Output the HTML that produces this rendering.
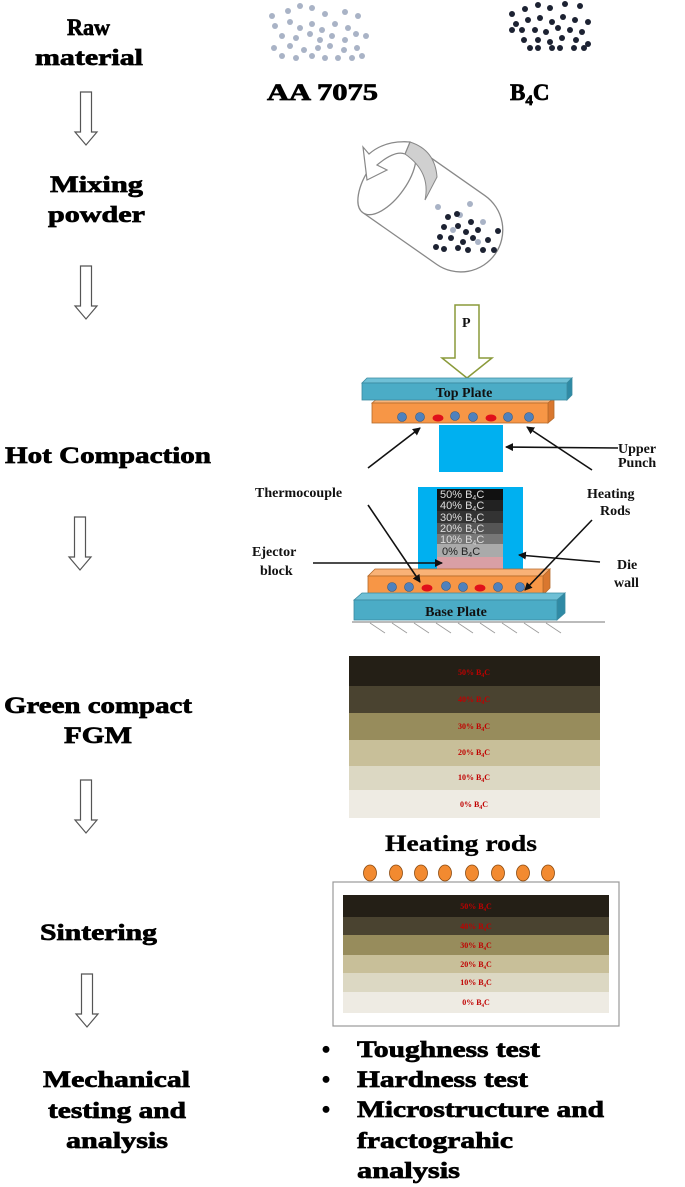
<!DOCTYPE html>
<html><head><meta charset="utf-8"><style>
html,body{margin:0;padding:0;background:#fff}
svg{display:block}
.h{font-family:"Liberation Serif",serif;font-weight:bold;font-size:23px;fill:#000;stroke:#000;stroke-width:0.7}
.l{font-family:"Liberation Serif",serif;font-weight:bold;font-size:14px;fill:#111}
.r{font-family:"Liberation Serif",serif;font-weight:bold;font-size:8px;fill:#c00000}
.g{font-family:"Liberation Sans",sans-serif;font-size:11px;fill:#ddd}
</style></head><body>
<svg width="685" height="1187" viewBox="0 0 685 1187" xmlns="http://www.w3.org/2000/svg">
<defs>
<g id="arr"><path d="M-5.5 0 H5.5 V40 H11 L0 53 L-11 40 H-5.5 Z" fill="#fff" stroke="#555" stroke-width="1.2"/></g>
<marker id="ah" markerWidth="8" markerHeight="8" refX="7" refY="4" orient="auto" markerUnits="userSpaceOnUse"><path d="M0 0 L8 4 L0 8 Z" fill="#111"/></marker>
</defs>

<!-- left labels -->
<text class="h" x="67" y="35" textLength="43" lengthAdjust="spacingAndGlyphs">Raw</text>
<text class="h" x="35" y="65" textLength="108" lengthAdjust="spacingAndGlyphs">material</text>
<use href="#arr" x="86" y="92"/>
<text class="h" x="50" y="192" textLength="93" lengthAdjust="spacingAndGlyphs">Mixing</text>
<text class="h" x="48" y="222" textLength="97" lengthAdjust="spacingAndGlyphs">powder</text>
<use href="#arr" x="86" y="266"/>
<text class="h" x="5" y="463" textLength="206" lengthAdjust="spacingAndGlyphs">Hot Compaction</text>
<use href="#arr" x="80" y="517"/>
<text class="h" x="4" y="713" textLength="188" lengthAdjust="spacingAndGlyphs">Green compact</text>
<text class="h" x="64" y="743" textLength="68" lengthAdjust="spacingAndGlyphs">FGM</text>
<use href="#arr" x="86" y="780"/>
<text class="h" x="40" y="940" textLength="117" lengthAdjust="spacingAndGlyphs">Sintering</text>
<use href="#arr" x="87" y="974"/>
<text class="h" x="43" y="1087" textLength="147" lengthAdjust="spacingAndGlyphs">Mechanical</text>
<text class="h" x="48" y="1118" textLength="138" lengthAdjust="spacingAndGlyphs">testing and</text>
<text class="h" x="66" y="1148" textLength="102" lengthAdjust="spacingAndGlyphs">analysis</text>

<!-- particles -->
<g fill="#a9b3c6">
<circle cx="272" cy="16" r="3"/><circle cx="288" cy="11" r="3"/><circle cx="300" cy="6" r="3"/><circle cx="312" cy="8" r="3"/><circle cx="325" cy="14" r="3"/><circle cx="345" cy="12" r="3"/><circle cx="358" cy="16" r="3"/>
<circle cx="275" cy="26" r="3"/><circle cx="290" cy="22" r="3"/><circle cx="300" cy="28" r="3"/><circle cx="312" cy="24" r="3"/><circle cx="322" cy="30" r="3"/><circle cx="335" cy="24" r="3"/><circle cx="348" cy="28" r="3"/><circle cx="366" cy="36" r="3"/>
<circle cx="282" cy="36" r="3"/><circle cx="296" cy="38" r="3"/><circle cx="310" cy="34" r="3"/><circle cx="320" cy="40" r="3"/><circle cx="332" cy="36" r="3"/><circle cx="345" cy="40" r="3"/><circle cx="356" cy="34" r="3"/>
<circle cx="274" cy="48" r="3"/><circle cx="290" cy="46" r="3"/><circle cx="304" cy="50" r="3"/><circle cx="318" cy="48" r="3"/><circle cx="330" cy="46" r="3"/><circle cx="344" cy="50" r="3"/><circle cx="357" cy="48" r="3"/>
<circle cx="282" cy="56" r="3"/><circle cx="296" cy="58" r="3"/><circle cx="312" cy="56" r="3"/><circle cx="325" cy="58" r="3"/><circle cx="338" cy="58" r="3"/><circle cx="352" cy="58" r="3"/><circle cx="362" cy="56" r="3"/>
</g>
<g fill="#1c2232">
<circle cx="512" cy="14" r="3"/><circle cx="525" cy="9" r="3"/><circle cx="538" cy="5" r="3"/><circle cx="550" cy="8" r="3"/><circle cx="565" cy="4" r="3"/><circle cx="580" cy="6" r="3"/>
<circle cx="516" cy="24" r="3"/><circle cx="528" cy="20" r="3"/><circle cx="540" cy="18" r="3"/><circle cx="552" cy="22" r="3"/><circle cx="563" cy="17" r="3"/><circle cx="575" cy="20" r="3"/><circle cx="588" cy="22" r="3"/>
<circle cx="512" cy="30" r="3"/><circle cx="522" cy="30" r="3"/><circle cx="535" cy="30" r="3"/><circle cx="546" cy="32" r="3"/><circle cx="558" cy="28" r="3"/><circle cx="570" cy="30" r="3"/><circle cx="582" cy="32" r="3"/>
<circle cx="524" cy="40" r="3"/><circle cx="538" cy="40" r="3"/><circle cx="550" cy="42" r="3"/><circle cx="562" cy="38" r="3"/><circle cx="576" cy="40" r="3"/><circle cx="588" cy="44" r="3"/>
<circle cx="530" cy="48" r="3"/><circle cx="538" cy="48" r="3"/><circle cx="552" cy="48" r="3"/><circle cx="560" cy="48" r="3"/><circle cx="574" cy="48" r="3"/><circle cx="584" cy="48" r="3"/>
</g>
<text class="h" x="267" y="100" textLength="111" lengthAdjust="spacingAndGlyphs">AA 7075</text>
<text class="h" x="510" y="100">B<tspan font-size="15" dy="5">4</tspan><tspan dy="-5">C</tspan></text>

<!-- mixer -->
<g transform="translate(428,207) rotate(35)">
<path d="M-50 -42 H40 A42 42 0 0 1 40 42 H-50" fill="#fff" stroke="#888" stroke-width="1.3"/>
<ellipse cx="-50" cy="0" rx="20" ry="42" fill="#fff" stroke="#888" stroke-width="1.3"/>
</g>
<path d="M410 142 Q435 150 437 177 L425 200 Q431 172 405 154 Z" fill="#d0d0d0" stroke="#888"/>
<path d="M410 142 Q385 140 369 154 L363 147 L367 180 L387 170 L377 165 Q395 150 405 154 Z" fill="#fff" stroke="#888" stroke-width="1.2"/>
<g fill="#a9b3c6"><circle cx="438" cy="207" r="3"/><circle cx="470" cy="204" r="3"/><circle cx="460" cy="215" r="3"/><circle cx="483" cy="222" r="3"/><circle cx="453" cy="230" r="3"/><circle cx="478" cy="242" r="3"/></g>
<g fill="#1c2232">
<circle cx="448" cy="217" r="3"/><circle cx="457" cy="214" r="3"/><circle cx="471" cy="222" r="3"/><circle cx="444" cy="227" r="3"/><circle cx="458" cy="226" r="3"/><circle cx="466" cy="232" r="3"/><circle cx="478" cy="230" r="3"/><circle cx="498" cy="231" r="3"/>
<circle cx="440" cy="237" r="3"/><circle cx="451" cy="238" r="3"/><circle cx="463" cy="242" r="3"/><circle cx="473" cy="238" r="3"/><circle cx="488" cy="240" r="3"/>
<circle cx="436" cy="247" r="3"/><circle cx="444" cy="249" r="3"/><circle cx="458" cy="248" r="3"/><circle cx="468" cy="250" r="3"/><circle cx="483" cy="250" r="3"/><circle cx="494" cy="250" r="3"/>
</g>

<!-- press -->
<path d="M455 305 H479 V358 H492 L467 378 L442 358 H455 Z" fill="#fff" stroke="#8a9a3a" stroke-width="1.5"/>
<text class="l" x="462" y="327" font-size="15">P</text>
<!-- upper orange -->
<path d="M372 403 L378 398 L554 398 L548 403 Z" fill="#f9b277" stroke="#b56a2a" stroke-width="0.8"/>
<path d="M548 403 L554 398 L554 418 L548 423 Z" fill="#d9772f" stroke="#b56a2a" stroke-width="0.8"/>
<rect x="372" y="403" width="176" height="20" fill="#f79646" stroke="#b56a2a" stroke-width="0.8"/>
<g fill="#4f81bd" stroke="#2c5a8a" stroke-width="0.6">
<circle cx="402" cy="417" r="4.5"/><circle cx="420" cy="417" r="4.5"/><circle cx="455" cy="416" r="4.5"/><circle cx="473" cy="417" r="4.5"/><circle cx="508" cy="417" r="4.5"/><circle cx="529" cy="417" r="4.5"/></g>
<g fill="#e0101a"><ellipse cx="438" cy="418" rx="5.5" ry="3.5"/><ellipse cx="491" cy="418" rx="5.5" ry="3.5"/></g>
<!-- top plate -->
<path d="M362 383 L367 378 L572 378 L567 383 Z" fill="#6fc0d6" stroke="#3a8aa0" stroke-width="0.8"/>
<path d="M567 383 L572 378 L572 395 L567 400 Z" fill="#2f8aa5" stroke="#3a8aa0" stroke-width="0.8"/>
<rect x="362" y="383" width="205" height="17" fill="#4bacc6" stroke="#3a8aa0" stroke-width="0.8"/>
<text class="l" x="464" y="397" text-anchor="middle" font-size="14" fill="#1a2a3a">Top Plate</text>
<!-- upper punch -->
<rect x="439" y="425" width="64" height="47" fill="#00b0f0"/>
<!-- die -->
<rect x="418" y="487" width="105" height="82" fill="#00b0f0"/>
<rect x="437" y="489" width="66" height="11" fill="#111"/>
<rect x="437" y="500" width="66" height="11" fill="#222"/>
<rect x="437" y="511" width="66" height="12" fill="#333"/>
<rect x="437" y="523" width="66" height="11" fill="#555"/>
<rect x="437" y="534" width="66" height="10" fill="#777"/>
<rect x="437" y="544" width="66" height="13" fill="#aaa"/>
<rect x="437" y="557" width="66" height="12" fill="#d99fa5"/>
<g class="g" font-size="11">
<text x="440" y="498">50% B<tspan font-size="7" dy="2">4</tspan><tspan dy="-2">C</tspan></text>
<text x="440" y="509">40% B<tspan font-size="7" dy="2">4</tspan><tspan dy="-2">C</tspan></text>
<text x="440" y="521">30% B<tspan font-size="7" dy="2">4</tspan><tspan dy="-2">C</tspan></text>
<text x="440" y="532">20% B<tspan font-size="7" dy="2">4</tspan><tspan dy="-2">C</tspan></text>
<text x="440" y="543">10% B<tspan font-size="7" dy="2">4</tspan><tspan dy="-2">C</tspan></text>
<text x="442" y="555" style="fill:#222">0% B<tspan font-size="7" dy="2">4</tspan><tspan dy="-2">C</tspan></text>
</g>
<!-- lower orange -->
<path d="M368 576 L375 569 L550 569 L543 576 Z" fill="#f9b277" stroke="#b56a2a" stroke-width="0.8"/>
<path d="M543 576 L550 569 L550 588 L543 595 Z" fill="#d9772f" stroke="#b56a2a" stroke-width="0.8"/>
<rect x="368" y="576" width="175" height="19" fill="#f79646" stroke="#b56a2a" stroke-width="0.8"/>
<g fill="#4f81bd" stroke="#2c5a8a" stroke-width="0.6">
<circle cx="392" cy="587" r="4.5"/><circle cx="409" cy="587" r="4.5"/><circle cx="446" cy="586" r="4.5"/><circle cx="463" cy="587" r="4.5"/><circle cx="498" cy="587" r="4.5"/><circle cx="520" cy="587" r="4.5"/></g>
<g fill="#e0101a"><ellipse cx="427" cy="588" rx="5.5" ry="3.5"/><ellipse cx="480" cy="588" rx="5.5" ry="3.5"/></g>
<!-- base plate -->
<path d="M354 600 L362 593 L565 593 L557 600 Z" fill="#6fc0d6" stroke="#3a8aa0" stroke-width="0.8"/>
<path d="M557 600 L565 593 L565 613 L557 620 Z" fill="#2f8aa5" stroke="#3a8aa0" stroke-width="0.8"/>
<rect x="354" y="600" width="203" height="20" fill="#4bacc6" stroke="#3a8aa0" stroke-width="0.8"/>
<text class="l" x="456" y="616" text-anchor="middle" font-size="15" fill="#1a2a3a">Base Plate</text>
<line x1="352" y1="622" x2="605" y2="622" stroke="#777" stroke-width="1"/>
<g stroke="#999" stroke-width="0.8">
<line x1="370" y1="623" x2="385" y2="633"/><line x1="392" y1="623" x2="407" y2="633"/><line x1="414" y1="623" x2="429" y2="633"/><line x1="436" y1="623" x2="451" y2="633"/><line x1="458" y1="623" x2="473" y2="633"/><line x1="480" y1="623" x2="495" y2="633"/><line x1="502" y1="623" x2="517" y2="633"/><line x1="524" y1="623" x2="539" y2="633"/><line x1="546" y1="623" x2="561" y2="633"/>
</g>
<!-- labels press -->
<text class="l" x="618" y="453">Upper</text>
<text class="l" x="618" y="467">Punch</text>
<text class="l" x="255" y="497">Thermocouple</text>
<text class="l" x="587" y="498">Heating</text>
<text class="l" x="600" y="515">Rods</text>
<text class="l" x="252" y="556">Ejector</text>
<text class="l" x="260" y="575">block</text>
<text class="l" x="617" y="569">Die</text>
<text class="l" x="614" y="587">wall</text>
<g stroke="#111" stroke-width="1.6" marker-end="url(#ah)">
<line x1="618" y1="448" x2="506" y2="447"/>
<line x1="368" y1="468" x2="420" y2="428"/>
<line x1="368" y1="505" x2="420" y2="582"/>
<line x1="592" y1="470" x2="527" y2="427"/>
<line x1="592" y1="520" x2="525" y2="590"/>
<line x1="313" y1="563" x2="442" y2="563"/>
<line x1="600" y1="562" x2="519" y2="555"/>
</g>

<!-- green compact -->
<rect x="349" y="656" width="251" height="30" fill="#241f16"/>
<rect x="349" y="686" width="251" height="27" fill="#4a4330"/>
<rect x="349" y="713" width="251" height="27" fill="#978c5c"/>
<rect x="349" y="740" width="251" height="26" fill="#c8bf99"/>
<rect x="349" y="766" width="251" height="24" fill="#dcd8c3"/>
<rect x="349" y="790" width="251" height="28" fill="#eeebe3"/>
<g class="r" text-anchor="middle">
<text x="474" y="675">50% B<tspan font-size="6" dy="2">4</tspan><tspan dy="-2">C</tspan></text>
<text x="474" y="702">40% B<tspan font-size="6" dy="2">4</tspan><tspan dy="-2">C</tspan></text>
<text x="474" y="729">30% B<tspan font-size="6" dy="2">4</tspan><tspan dy="-2">C</tspan></text>
<text x="474" y="755">20% B<tspan font-size="6" dy="2">4</tspan><tspan dy="-2">C</tspan></text>
<text x="474" y="780">10% B<tspan font-size="6" dy="2">4</tspan><tspan dy="-2">C</tspan></text>
<text x="474" y="807">0% B<tspan font-size="6" dy="2">4</tspan><tspan dy="-2">C</tspan></text>
</g>

<!-- sintering -->
<text class="h" x="385" y="851" textLength="152" lengthAdjust="spacingAndGlyphs" style="stroke-width:0.3">Heating rods</text>
<g fill="#f28a30" stroke="#8a4a10" stroke-width="0.8">
<ellipse cx="370" cy="873" rx="6.5" ry="8"/><ellipse cx="396" cy="873" rx="6.5" ry="8"/><ellipse cx="421" cy="873" rx="6.5" ry="8"/><ellipse cx="445" cy="873" rx="6.5" ry="8"/><ellipse cx="472" cy="873" rx="6.5" ry="8"/><ellipse cx="498" cy="873" rx="6.5" ry="8"/><ellipse cx="523" cy="873" rx="6.5" ry="8"/><ellipse cx="548" cy="873" rx="6.5" ry="8"/>
</g>
<rect x="333" y="882" width="286" height="144" fill="#fff" stroke="#999" stroke-width="1.2"/>
<rect x="343" y="895" width="266" height="22" fill="#241f16"/>
<rect x="343" y="917" width="266" height="18" fill="#4a4330"/>
<rect x="343" y="935" width="266" height="20" fill="#978c5c"/>
<rect x="343" y="955" width="266" height="18" fill="#c8bf99"/>
<rect x="343" y="973" width="266" height="19" fill="#dcd8c3"/>
<rect x="343" y="992" width="266" height="21" fill="#eeebe3"/>
<g class="r" text-anchor="middle" font-size="7">
<text x="476" y="909">50% B<tspan font-size="5" dy="2">4</tspan><tspan dy="-2">C</tspan></text>
<text x="476" y="929">40% B<tspan font-size="5" dy="2">4</tspan><tspan dy="-2">C</tspan></text>
<text x="476" y="948">30% B<tspan font-size="5" dy="2">4</tspan><tspan dy="-2">C</tspan></text>
<text x="476" y="967">20% B<tspan font-size="5" dy="2">4</tspan><tspan dy="-2">C</tspan></text>
<text x="476" y="985">10% B<tspan font-size="5" dy="2">4</tspan><tspan dy="-2">C</tspan></text>
<text x="476" y="1005">0% B<tspan font-size="5" dy="2">4</tspan><tspan dy="-2">C</tspan></text>
</g>

<!-- bullets -->
<g class="h">
<text x="322" y="1057">•</text><text x="357" y="1057" textLength="183" lengthAdjust="spacingAndGlyphs">Toughness test</text>
<text x="322" y="1087">•</text><text x="357" y="1087" textLength="171" lengthAdjust="spacingAndGlyphs">Hardness test</text>
<text x="322" y="1117">•</text><text x="357" y="1117" textLength="247" lengthAdjust="spacingAndGlyphs">Microstructure and</text>
<text x="357" y="1148" textLength="156" lengthAdjust="spacingAndGlyphs">fractograhic</text>
<text x="357" y="1178" textLength="103" lengthAdjust="spacingAndGlyphs">analysis</text>
</g>
</svg>
</body></html>
